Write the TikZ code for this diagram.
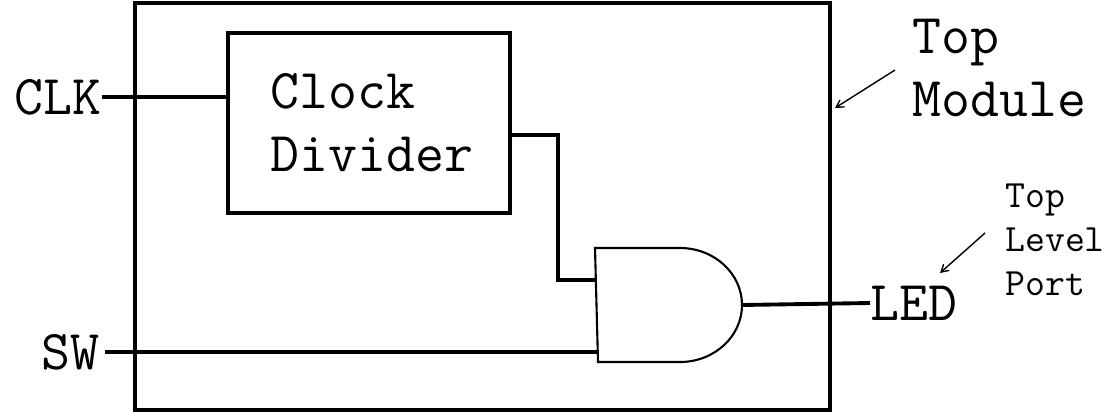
\documentclass[tikz,border=0pt]{standalone}
\usetikzlibrary{arrows,positioning}

\tikzset{
  blk/.style={draw,line width=2.4pt,minimum width=5.64cm,minimum height=3.6cm,inner sep=0pt},
  wire/.style={line width=2.2pt},
  lbl/.style={font=\ttfamily\fontsize{32}{36}\selectfont,inner sep=0pt},
  note/.style={font=\ttfamily\fontsize{22}{25}\selectfont,inner sep=0pt,align=left},
  pointer/.style={->,>=angle 60,line width=0.8pt}
}

\begin{document}
\begin{tikzpicture}[x=0.02cm,y=-0.02cm]

            \useasboundingbox (0,0) rectangle (1116,413);

            \draw[line width=2.8pt] (135,3) rectangle (830,410);

            \node[blk] (div) at (369,123) {};
            \node[lbl,align=left] (divtxt) at (372,123) {Clock\\Divider};

            \node[lbl,anchor=east] (clk) at (102,97) {CLK};
            \node[lbl,anchor=east] (sw) at (100,352) {SW};
            \node[lbl,anchor=west] (led) at (870,303) {LED};

            % and gate
            \coordinate (ga) at (595,280);
            \coordinate (gb) at (598,352);
            \coordinate (gout) at (742,305);
            \draw[line width=1.2pt] (595,248) -- (680,248) arc[start angle=-90,end angle=90,x radius=62,y radius=57] -- (598,362) -- cycle;

            \draw[wire] (clk.east) -- (div.west |- clk.east);
            \draw[wire] (div.east |- 0,135) -| (558,280) -- (ga);
            \draw[wire] (sw.east) ++(5,0) -- (gb);
            \draw[wire] (gout) -- (led.west);

            \node[lbl,align=left,anchor=west] (top) at (912,68) {Top\\Module};
            \node[note,anchor=west] (port) at (1005,240) {Top\\Level\\Port};

            \coordinate (topend) at (835,108);
            \coordinate (portend) at (940,273);
            \draw[pointer] (895,70) -- (topend);
            \draw[pointer] (985,233) -- (portend);

            \end{tikzpicture}
\end{document}
